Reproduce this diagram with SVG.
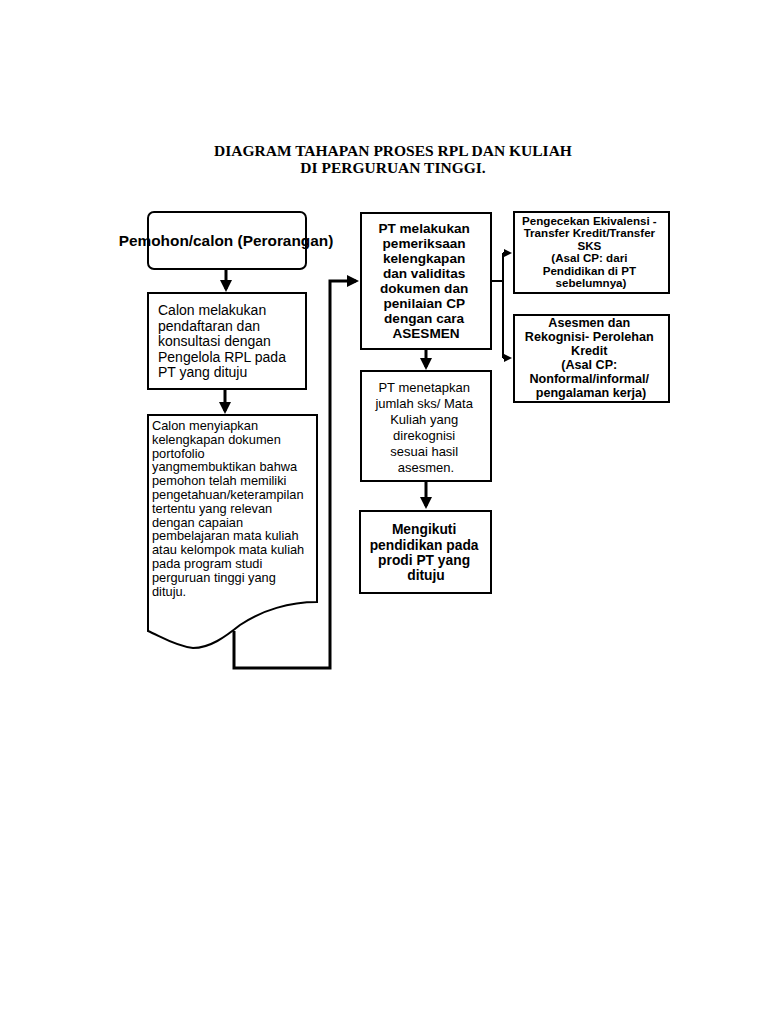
<svg xmlns="http://www.w3.org/2000/svg" width="768" height="1024" viewBox="0 0 768 1024">
<style>
.box{fill:#fff;stroke:#000;stroke-width:2}
.c{fill:none;stroke:#000;stroke-width:3}
.t{font-family:"Liberation Sans",Arial,sans-serif;fill:#000}
.b{font-weight:bold}
.title{font-family:"Liberation Serif","Times New Roman",serif;font-weight:bold;font-size:15.5px;text-anchor:middle}
</style>
<defs>
<marker id="ah" markerWidth="4" markerHeight="4" refX="3" refY="2" orient="auto" markerUnits="strokeWidth">
<path d="M0,0 L4,2 L0,4 Z" fill="#000"/>
</marker>
</defs>
<rect width="768" height="1024" fill="#fff"/>
<g id="title">
<text class="title" x="393" y="156">DIAGRAM TAHAPAN PROSES RPL DAN KULIAH</text>
<text class="title" x="393" y="173">DI PERGURUAN TINGGI.</text>
</g>
<g id="connectors">
<path class="c" d="M226,269 V289" marker-end="url(#ah)"/>
<path class="c" d="M225,389 V411" marker-end="url(#ah)"/>
<path class="c" d="M234,631 V668 H330 V281 H356" marker-end="url(#ah)"/>
<path class="c" d="M426,349 V367" marker-end="url(#ah)"/>
<path class="c" d="M426,481 V506" marker-end="url(#ah)"/>
<path class="c" style="stroke-width:2" d="M491,281 H503 M503,253 V358"/>
<path class="c" style="stroke-width:2" d="M503,253 H510" marker-end="url(#ah)"/>
<path class="c" style="stroke-width:2" d="M503,358 H510" marker-end="url(#ah)"/>
</g>
<g id="n1">
<rect class="box" x="148" y="212" width="158" height="57" rx="6"/>
<text class="t b" x="226" y="246" font-size="15.4" text-anchor="middle">Pemohon/calon (Perorangan)</text>
</g>
<g id="n2">
<rect class="box" x="148" y="293" width="158" height="96"/>
<text class="t" font-size="14">
<tspan x="158" y="315">Calon melakukan</tspan>
<tspan x="158" y="330.5">pendaftaran dan</tspan>
<tspan x="158" y="346">konsultasi dengan</tspan>
<tspan x="158" y="361.5">Pengelola RPL pada</tspan>
<tspan x="158" y="377">PT yang dituju</tspan>
</text>
</g>
<g id="n3">
<path class="box" d="M148,415 H317 V602 C290,602 262,610 240,625 C225,637 210,648 193,648 C175,646 160,636 148,631 Z"/>
<text class="t" font-size="12.8">
<tspan x="152" y="430">Calon menyiapkan</tspan>
<tspan x="152" y="443.8">kelengkapan dokumen</tspan>
<tspan x="152" y="457.6">portofolio</tspan>
<tspan x="152" y="471.4">yangmembuktikan bahwa</tspan>
<tspan x="152" y="485.2">pemohon telah memiliki</tspan>
<tspan x="152" y="499">pengetahuan/keterampilan</tspan>
<tspan x="152" y="512.8">tertentu yang relevan</tspan>
<tspan x="152" y="526.6">dengan capaian</tspan>
<tspan x="152" y="540.4">pembelajaran mata kuliah</tspan>
<tspan x="152" y="554.2">atau kelompok mata kuliah</tspan>
<tspan x="152" y="568">pada program studi</tspan>
<tspan x="152" y="581.8">perguruan tinggi yang</tspan>
<tspan x="152" y="595.6">dituju.</tspan>
</text>
</g>
<g id="n4">
<rect class="box" x="361" y="213" width="130" height="136"/>
<text class="t b" font-size="13.6" text-anchor="middle">
<tspan x="426" y="233">PT melakukan</tspan>
<tspan x="426" y="248">pemeriksaan</tspan>
<tspan x="426" y="263">kelengkapan</tspan>
<tspan x="426" y="278">dan validitas</tspan>
<tspan x="426" y="293">dokumen dan</tspan>
<tspan x="426" y="308">penilaian CP</tspan>
<tspan x="426" y="323">dengan cara</tspan>
<tspan x="426" y="338">ASESMEN</tspan>
</text>
</g>
<g id="n5">
<rect class="box" x="361" y="371" width="130" height="110"/>
<text class="t" font-size="13" text-anchor="middle">
<tspan x="426" y="392">PT menetapkan</tspan>
<tspan x="426" y="408">jumlah sks/ Mata</tspan>
<tspan x="426" y="424">Kuliah yang</tspan>
<tspan x="426" y="440">direkognisi</tspan>
<tspan x="426" y="456">sesuai hasil</tspan>
<tspan x="426" y="472">asesmen.</tspan>
</text>
</g>
<g id="n6">
<rect class="box" x="360" y="511" width="131" height="82"/>
<text class="t b" font-size="13.8" text-anchor="middle">
<tspan x="426" y="534">Mengikuti</tspan>
<tspan x="426" y="549.5">pendidikan pada</tspan>
<tspan x="426" y="565">prodi PT yang</tspan>
<tspan x="426" y="580">dituju</tspan>
</text>
</g>
<g id="n7">
<rect class="box" x="514" y="212" width="155" height="81"/>
<text class="t b" font-size="11.6" text-anchor="middle">
<tspan x="591" y="225">Pengecekan Ekivalensi -</tspan>
<tspan x="591" y="237.4">Transfer Kredit/Transfer</tspan>
<tspan x="591" y="249.8">SKS</tspan>
<tspan x="591" y="262.2">(Asal CP: dari</tspan>
<tspan x="591" y="274.6">Pendidikan di PT</tspan>
<tspan x="591" y="287">sebelumnya)</tspan>
</text>
</g>
<g id="n8">
<rect class="box" x="514" y="315" width="155" height="87"/>
<text class="t b" font-size="12.6" text-anchor="middle">
<tspan x="591" y="327">Asesmen dan</tspan>
<tspan x="591" y="341">Rekognisi- Perolehan</tspan>
<tspan x="591" y="355">Kredit</tspan>
<tspan x="591" y="369">(Asal CP:</tspan>
<tspan x="591" y="383">Nonformal/informal/</tspan>
<tspan x="591" y="397">pengalaman kerja)</tspan>
</text>
</g>
</svg>
